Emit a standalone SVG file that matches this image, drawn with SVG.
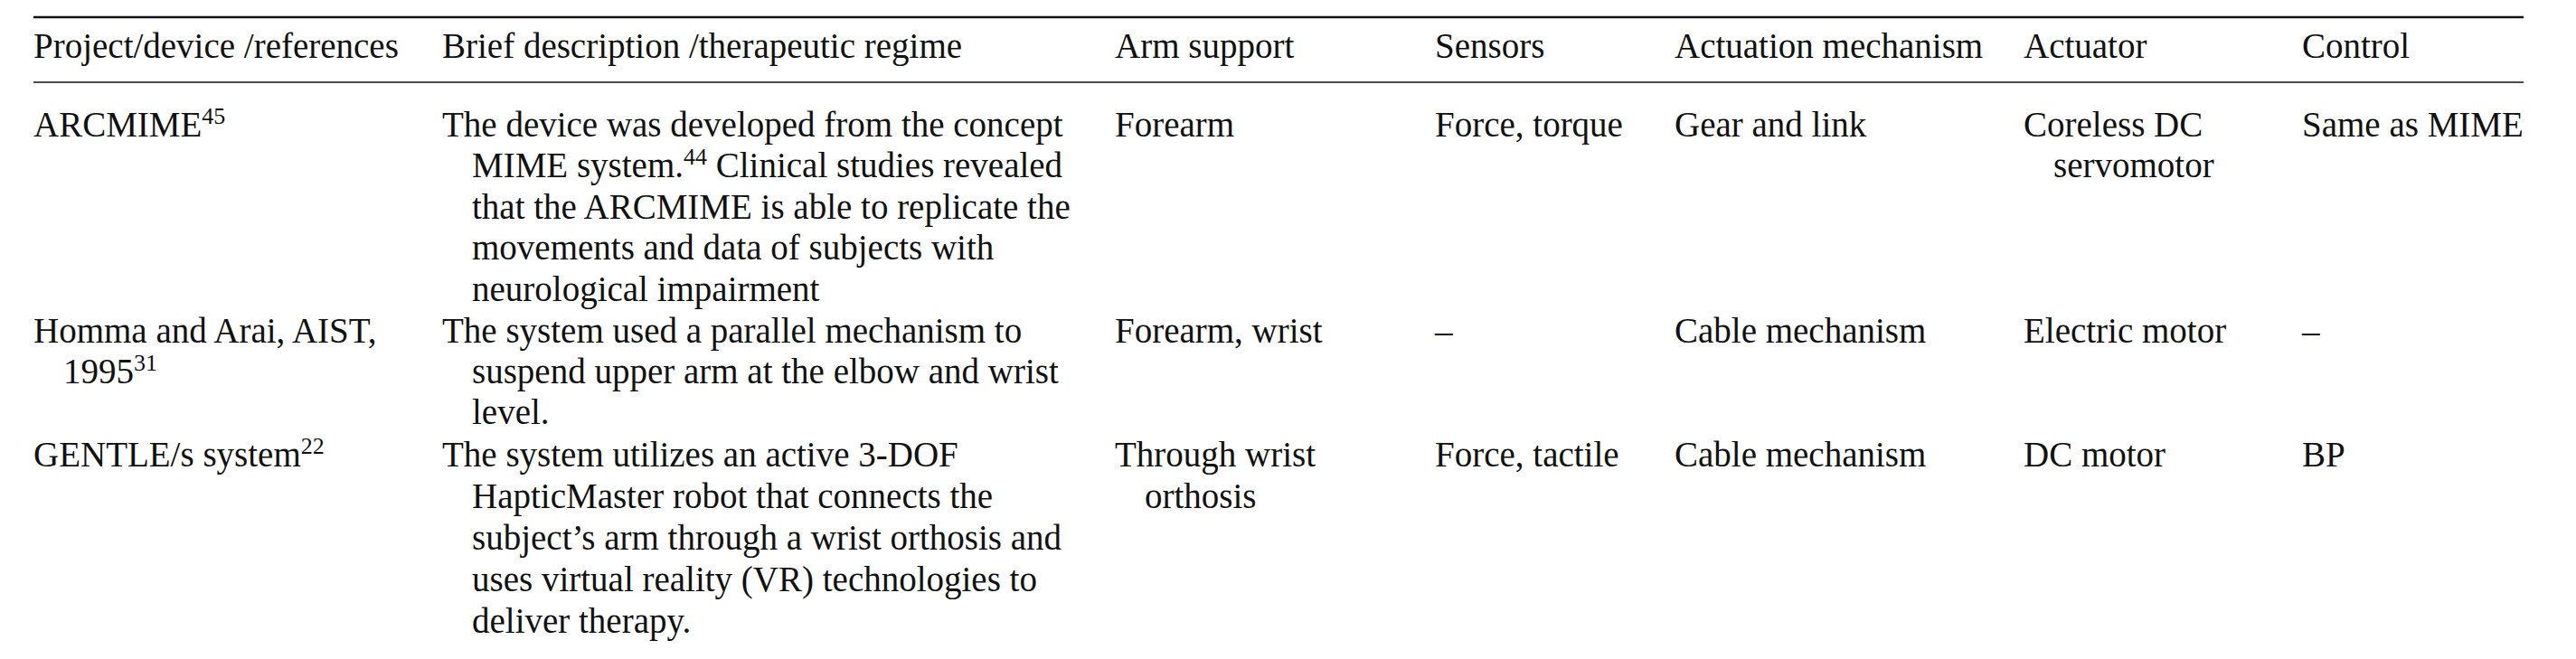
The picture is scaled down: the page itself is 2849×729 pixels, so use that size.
<svg xmlns="http://www.w3.org/2000/svg" width="2849" height="729" viewBox="0 0 2849 729" font-family="'Liberation Serif', 'Times New Roman', Times, 'DejaVu Serif', serif">
<style>
text{font-family:'Liberation Serif','Times New Roman',Times,'DejaVu Serif',serif;font-size:39px;fill:#111}
.s{font-size:26px}
line{stroke:#111}
</style>
<rect width="2849" height="729" fill="#fff"/>
<g id="rules">
<line x1="37" y1="19" x2="2791" y2="19" stroke-width="2.5"/>
<line x1="37" y1="91" x2="2791" y2="91" stroke-width="1.5"/>
</g>
<g id="header">
<text x="37" y="64">Project/device /references</text>
<text x="489" y="64">Brief description /therapeutic regime</text>
<text x="1233" y="64">Arm support</text>
<text x="1587" y="64">Sensors</text>
<text x="1852" y="64">Actuation mechanism</text>
<text x="2238" y="64">Actuator</text>
<text x="2546" y="64">Control</text>
</g>
<g id="row1">
<text x="37" y="151">ARCMIME<tspan class="s" dy="-14">45</tspan></text>
<text x="489" y="151">The device was developed from the concept</text>
<text x="522" y="196">MIME system.<tspan class="s" dy="-14">44</tspan><tspan dy="14"> Clinical studies revealed</tspan></text>
<text x="522" y="242">that the ARCMIME is able to replicate the</text>
<text x="522" y="287">movements and data of subjects with</text>
<text x="522" y="333">neurological impairment</text>
<text x="1233" y="151">Forearm</text>
<text x="1587" y="151">Force, torque</text>
<text x="1852" y="151">Gear and link</text>
<text x="2238" y="151">Coreless DC</text>
<text x="2271" y="196">servomotor</text>
<text x="2546" y="151">Same as MIME</text>
</g>
<g id="row2">
<text x="37" y="379">Homma and Arai, AIST,</text>
<text x="70" y="424">1995<tspan class="s" dy="-14">31</tspan></text>
<text x="489" y="379">The system used a parallel mechanism to</text>
<text x="522" y="424">suspend upper arm at the elbow and wrist</text>
<text x="522" y="469">level.</text>
<text x="1233" y="379">Forearm, wrist</text>
<text x="1587" y="379">–</text>
<text x="1852" y="379">Cable mechanism</text>
<text x="2238" y="379">Electric motor</text>
<text x="2546" y="379">–</text>
</g>
<g id="row3">
<text x="37" y="516">GENTLE/s system<tspan class="s" dy="-14">22</tspan></text>
<text x="489" y="516">The system utilizes an active 3-DOF</text>
<text x="522" y="562">HapticMaster robot that connects the</text>
<text x="522" y="608">subject’s arm through a wrist orthosis and</text>
<text x="522" y="654">uses virtual reality (VR) technologies to</text>
<text x="522" y="700">deliver therapy.</text>
<text x="1233" y="516">Through wrist</text>
<text x="1266" y="562">orthosis</text>
<text x="1587" y="516">Force, tactile</text>
<text x="1852" y="516">Cable mechanism</text>
<text x="2238" y="516">DC motor</text>
<text x="2546" y="516">BP</text>
</g>
</svg>
